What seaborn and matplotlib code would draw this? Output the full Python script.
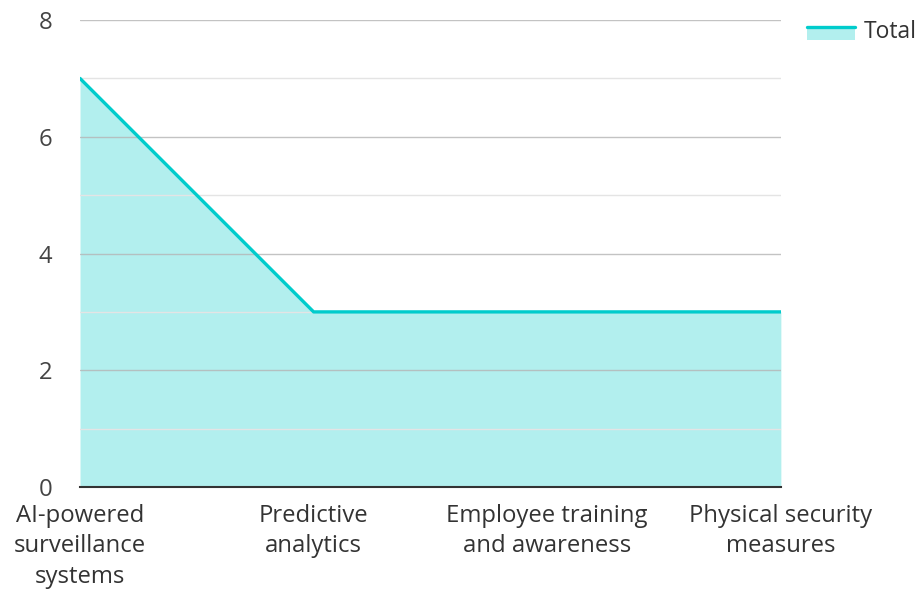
import matplotlib
matplotlib.use('Agg')
import matplotlib.pyplot as plt
import seaborn as sns
import pandas as pd
from matplotlib.patches import Rectangle
from matplotlib.lines import Line2D
from matplotlib.legend_handler import HandlerBase

categories = ["AI-powered\nsurveillance\nsystems", "Predictive\nanalytics",
              "Employee training\nand awareness", "Physical security\nmeasures"]
totals = [7, 3, 3, 3]

sns.set_theme(style="white")
plt.rcParams['font.family'] = ['Open Sans', 'DejaVu Sans']

df = pd.DataFrame({"pos": range(len(categories)), "Total": totals})

line_c = "#00CCCC"
fill_c = "#B2EFEE"


class AreaHandler(HandlerBase):
    # line on top of a filled box, like an area-chart swatch
    def create_artists(self, legend, orig_handle, xdescent, ydescent,
                       width, height, fontsize, trans):
        x0 = -xdescent
        top = -ydescent + height * 0.7
        box = Rectangle((x0, top - height * 0.8), width, height * 0.8,
                        facecolor=fill_c, edgecolor="none", transform=trans)
        ln = Line2D([x0, x0 + width], [top, top], color=line_c, lw=2.4,
                    transform=trans)
        return [box, ln]


fig, ax = plt.subplots(figsize=(9.23, 5.91), dpi=100)
fig.subplots_adjust(left=0.0867, right=0.846, top=0.966, bottom=0.176)

ax.fill_between(df["pos"], df["Total"], color=fill_c, lw=0, zorder=1)
sns.lineplot(data=df, x="pos", y="Total", color=line_c, lw=2.4, ax=ax, zorder=3)

ax.set_xlim(0, 3)
ax.set_ylim(0, 8)
ax.set_yticks([0, 2, 4, 6, 8])
ax.set_yticks([1, 3, 5, 7], minor=True)
ax.grid(True, which="major", axis="y", color="#b5b5b5", lw=1, alpha=0.8, zorder=2)
ax.grid(True, which="minor", axis="y", color="#e4e4e4", lw=1, zorder=2)
ax.set_axisbelow(False)
ax.set_xticks(range(len(categories)))
ax.set_xticklabels(categories, fontsize=17.2, color="#333333", linespacing=1.38)
ax.tick_params(axis="y", labelsize=17.2, colors="#444444", length=0, pad=20)
ax.tick_params(axis="x", length=0, pad=12)
ax.set_xlabel("")
ax.set_ylabel("")
for s in ["top", "right", "left"]:
    ax.spines[s].set_visible(False)
ax.spines["bottom"].set_color("#333333")
ax.spines["bottom"].set_linewidth(1.5)
ax.spines["bottom"].set_zorder(4)

ax.legend([object()], ["Total"], handler_map={object: AreaHandler()},
          loc="upper left", bbox_to_anchor=(807 / 923, 1 - 20 / 591),
          bbox_transform=fig.transFigure, borderpad=0, borderaxespad=0,
          frameon=False, fontsize=16.5, handlelength=2.1, handletextpad=0.38,
          labelcolor="#333333")

fig.savefig("out.png", dpi=100)
